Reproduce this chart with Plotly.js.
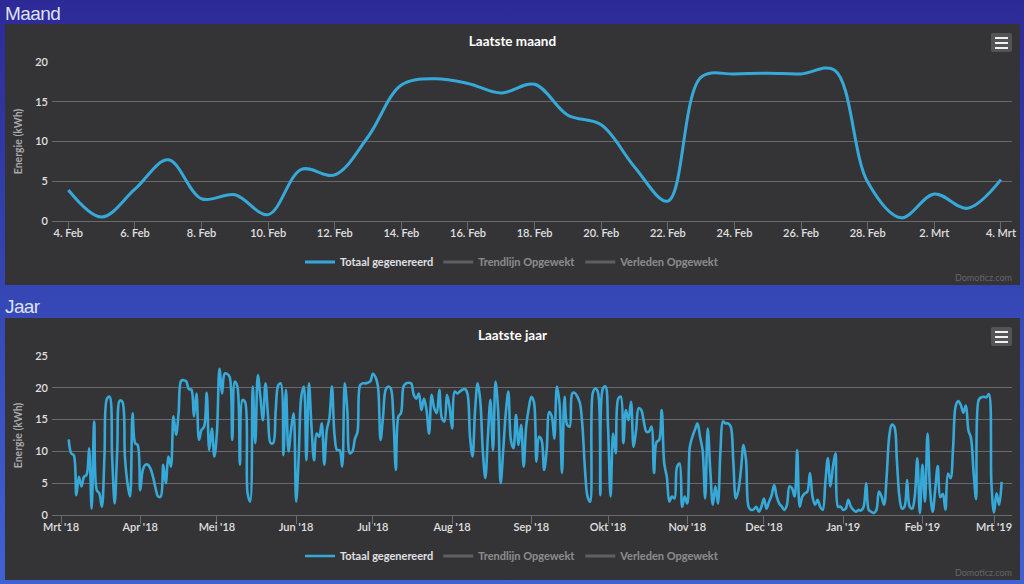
<!DOCTYPE html>
<html lang="nl">
<head>
    <meta charset="UTF-8">
    <title>Opbrengst zonnepanelen</title>
    <script src="https://cdn.plot.ly/plotly-3.0.1.min.js"></script>
    <style>
        body {
            margin: 0;
            width: 1024px;
            height: 584px;
            overflow: hidden;
            position: relative;
            background: linear-gradient(180deg, #2d2a97 0%, #3444b2 45%, #3b55c3 75%, #4062d0 100%);
            font-family: 'Liberation Sans', Arial, sans-serif;
        }
        .kop {
            position: absolute;
            left: 5px;
            color: #dfe1f6;
            font-size: 19px;
            line-height: 18px;
            letter-spacing: -0.6px;
        }
        .paneel {
            position: absolute;
            left: 5px;
            width: 1015px;
            background: #343436;
        }
        .menu {
            position: absolute;
            left: 986px;
            top: 9px;
            width: 21px;
            height: 19px;
            background: #545457;
            border-radius: 2px;
        }
        .menu span {
            position: absolute;
            left: 4px;
            width: 13px;
            height: 2px;
            background: #f0f0f0;
        }
        .credit {
            position: absolute;
            right: 8px;
            bottom: 2px;
            font-family: Lato, sans-serif;
            font-size: 9px;
            color: #646466;
        }
    </style>
</head>

<body>

<div class="kop" style="top:5px">Maand</div>
<div class="paneel" style="top:24px; height:261px">
    <div id="maand"></div>
    <div class="menu"><span style="top:4px"></span><span style="top:9px"></span><span style="top:14px"></span></div>
    <div class="credit">Domoticz.com</div>
</div>

<div class="kop" style="top:298px">Jaar</div>
<div class="paneel" style="top:318px; height:262px">
    <div id="jaar"></div>
    <div class="menu"><span style="top:4px"></span><span style="top:9px"></span><span style="top:14px"></span></div>
    <div class="credit">Domoticz.com</div>
</div>

<script>

    // laatste maand: 4 feb 2019 t/m 4 mrt 2019 (kWh per dag)
    const maandStart = '2019-02-04'
    const maandWaarden = [3.9, 0.5, 4.0, 7.7, 2.8, 3.3, 0.8, 6.5, 5.8, 10.6, 17.1, 17.9, 17.3, 16.1, 17.2,
        13.3, 12.1, 6.8, 2.5, 18.1, 18.5, 18.6, 18.5, 19.0, 4.9, 0.4, 3.4, 1.6, 5.2]
    const maandTickLabels = ['4. Feb', '6. Feb', '8. Feb', '10. Feb', '12. Feb', '14. Feb', '16. Feb', '18. Feb',
        '20. Feb', '22. Feb', '24. Feb', '26. Feb', '28. Feb', '2. Mrt', '4. Mrt']

    // laatste jaar: 4 mrt 2018 t/m 4 mrt 2019, per maand
    const jaarStart = '2018-03-04'
    const mrt18 = [11.9, 9.7, 9.4, 3.1, 6.0, 4.5, 6.0, 6.3, 10.5, 1.0, 14.7, 3.9, 3.4, 1.3, 9.2, 18.3, 18.6, 9.2, 1.8, 10.2,
        18.0, 17.8, 9.2, 5.0, 2.9, 16.0, 11.3, 11.0]
    const apr18 = [3.9, 7.1, 7.9, 7.9, 7.3, 6.0, 4.2, 2.9, 2.9, 7.9, 5.0, 9.2, 7.6, 15.5, 12.6, 16.0, 21.1, 21.2, 21.0, 19.8,
        19.7, 15.5, 19.1, 11.8, 13.4, 13.9, 19.2, 10.2, 13.6, 9.2]
    const mei18 = [13.0, 23.0, 19.1, 22.2, 22.2, 21.7, 11.8, 21.0, 20.2, 7.9, 18.1, 17.8, 3.4, 2.1, 20.2, 11.3, 22.0, 18.6,
        14.9, 20.7, 15.5, 11.3, 11.3, 16.5, 20.4, 20.7, 9.4, 19.7, 10.0, 13.4, 16.0]
    const jun18 = [2.1, 9.2, 18.6, 20.2, 8.6, 20.7, 13.9, 8.6, 12.8, 12.3, 14.4, 7.9, 13.4, 15.2, 20.2, 12.6, 10.2, 10.2,
        7.6, 20.7, 16.5, 9.7, 10.0, 12.0, 13.1, 20.4, 20.7, 20.7, 20.8, 21.0]
    const jul18 = [22.2, 21.7, 20.2, 11.8, 15.5, 19.7, 20.2, 19.9, 15.5, 7.1, 15.5, 16.0, 20.2, 20.7, 20.8, 20.7, 18.9, 18.3,
        19.1, 16.5, 18.3, 16.5, 12.8, 18.9, 16.8, 16.0, 19.7, 15.2, 14.7, 18.9, 17.0]
    const aug18 = [13.6, 19.4, 19.1, 19.4, 19.7, 19.8, 19.1, 12.3, 9.2, 16.5, 20.7, 18.1, 10.2, 5.8, 12.3, 18.1, 10.2, 21.0,
        16.5, 5.0, 10.2, 16.0, 19.4, 11.8, 10.5, 15.7, 11.0, 14.2, 7.6, 14.0, 16.8]
    const sep18 = [18.6, 17.8, 8.4, 12.3, 11.8, 7.1, 10.2, 16.2, 15.5, 12.0, 20.2, 17.6, 6.6, 18.6, 14.2, 13.9, 19.1, 19.2,
        18.6, 17.6, 13.9, 7.1, 2.9, 2.1, 19.1, 19.9, 19.4, 3.1, 19.9, 20.2]
    const okt18 = [13.9, 2.9, 12.8, 9.7, 18.3, 18.6, 11.3, 16.5, 14.9, 17.8, 10.7, 13.4, 16.8, 16.5, 14.7, 13.1, 13.1, 13.9,
        6.6, 11.5, 11.8, 16.5, 8.1, 6.0, 2.1, 2.9, 2.6, 7.6, 8.1, 1.3, 2.9]
    const nov18 = [1.8, 10.7, 12.3, 13.4, 14.4, 12.3, 10.2, 2.6, 13.6, 7.1, 1.6, 4.5, 1.8, 10.2, 14.7, 14.4, 14.4, 13.9,
        8.6, 2.6, 3.9, 7.1, 11.0, 8.6, 1.3, 0.8, 0.9, 1.3, 0.5, 1.3]
    const dec18 = [2.6, 1.0, 2.1, 3.1, 4.7, 2.9, 1.8, 1.3, 0.8, 1.6, 4.5, 4.2, 2.9, 10.2, 1.3, 2.9, 3.4, 3.7, 6.6, 2.9,
        1.6, 2.4, 1.3, 0.8, 5.0, 8.9, 4.5, 7.6, 9.7, 1.3, 1.3]
    const jan19 = [0.8, 1.0, 2.4, 1.3, 0.8, 0.5, 0.8, 0.7, 1.3, 5.0, 0.8, 0.5, 0.3, 0.8, 3.7, 2.9, 1.6, 6.0, 12.3, 14.2,
        13.9, 8.6, 2.9, 1.0, 1.3, 5.5, 1.3, 1.0, 2.9, 8.9, 0.3]
    const feb19 = [7.9, 2.1, 12.8, 3.9, 0.5, 4.0, 7.7, 2.8, 3.3, 0.8, 6.5, 5.8, 10.6, 17.1, 17.9, 17.3, 16.1, 17.2, 13.3,
        12.1, 6.8, 2.5, 18.1, 18.5, 18.6, 18.5, 19.0, 4.9]
    const mrt19 = [0.4, 3.4, 1.6, 5.2]
    const jaarTickDatums = ['2018-03-01', '2018-04-01', '2018-05-01', '2018-06-01', '2018-07-01', '2018-08-01',
        '2018-09-01', '2018-10-01', '2018-11-01', '2018-12-01', '2019-01-01', '2019-02-01', '2019-03-01']
    const jaarTickLabels = ["Mrt '18", "Apr '18", "Mei '18", "Jun '18", "Jul '18", "Aug '18", "Sep '18", "Okt '18",
        "Nov '18", "Dec '18", "Jan '19", "Feb '19", "Mrt '19"]

    const blauw = '#36a9d9'
    const raster = '#6a6a6d'
    const tekst = '#e0e0e3'

    function dagen(start, n) {
        const t0 = Date.parse(start + 'T00:00:00Z')
        return Array.from({length: n}, (_, i) => new Date(t0 + i * 864e5).toISOString().slice(0, 10))
    }

    // verborgen series staan alleen in de legenda (geen waarden)
    function series(x, y, breedte) {
        const leeg = x.map(() => null)
        return [
            {x: x, y: y, type: 'scatter', mode: 'lines', name: 'Totaal gegenereerd',
                line: {color: blauw, width: breedte, shape: 'spline', smoothing: 1}},
            {x: x, y: leeg, type: 'scatter', mode: 'lines', name: 'Trendlijn Opgewekt', visible: 'legendonly',
                line: {color: '#8a8a8c', width: 3}},
            {x: x, y: leeg, type: 'scatter', mode: 'lines', name: 'Verleden Opgewekt', visible: 'legendonly',
                line: {color: '#8a8a8c', width: 3}}
        ]
    }

    function opmaak(titel, hoogte, onder, bereik, tickvals, ticktext, ymax) {
        return {
            width: 1015,
            height: hoogte,
            margin: {l: 47, r: 8, t: 38, b: onder},
            paper_bgcolor: '#343436',
            plot_bgcolor: '#343436',
            font: {family: 'Lato, sans-serif', color: tekst, size: 11},
            title: {text: '<b>' + titel + '</b>', x: 0.5, xanchor: 'center', y: 1 - 17 / hoogte, yanchor: 'middle',
                font: {size: 13.5, color: '#ffffff', family: 'Lato, sans-serif'}},
            showlegend: true,
            legend: {orientation: 'h', xref: 'container', x: 0.5, xanchor: 'center', yref: 'container',
                y: 1 - 238 / hoogte, yanchor: 'middle', bgcolor: 'rgba(0,0,0,0)',
                font: {size: 11, color: tekst, family: 'Lato, sans-serif', weight: 'bold'}, itemwidth: 30},
            xaxis: {
                type: 'date', range: bereik, tickvals: tickvals, ticktext: ticktext, tickangle: 0,
                showgrid: false, showline: true, linecolor: raster, linewidth: 1,
                ticks: 'outside', ticklen: 8, tickcolor: raster, tickwidth: 1, ticklabelstandoff: -6,
                tickfont: {size: 11, color: tekst, weight: 600}, zeroline: false
            },
            yaxis: {
                range: [0, ymax], dtick: 5, showgrid: true, gridcolor: raster, gridwidth: 1,
                zeroline: false, ticks: '', ticklabelstandoff: 3,
                tickfont: {size: 11, color: tekst, weight: 600},
                title: {text: 'Energie (kWh)', standoff: 10, font: {size: 10.5, color: '#a8a8ab', weight: 'bold'}}
            },
            hovermode: false
        }
    }

    const maandDatums = dagen(maandStart, maandWaarden.length)
    const maandTicks = maandDatums.filter((d, i) => i % 2 === 0)

    const jaarWaarden = [].concat(mrt18, apr18, mei18, jun18, jul18, aug18, sep18, okt18, nov18, dec18, jan19, feb19, mrt19)
    const jaarDatums = dagen(jaarStart, jaarWaarden.length)

    Plotly.newPlot('maand', series(maandDatums, maandWaarden, 3),
        opmaak('Laatste maand', 261, 64, ['2019-02-03 12:15', '2019-03-04 08:00'], maandTicks, maandTickLabels, 20),
        {displayModeBar: false, staticPlot: true})

    Plotly.newPlot('jaar', series(jaarDatums, jaarWaarden, 2.6),
        opmaak('Laatste jaar', 262, 65, ['2018-02-25 11:30', '2019-03-08 01:00'], jaarTickDatums, jaarTickLabels, 25),
        {displayModeBar: false, staticPlot: true})

</script>
</body>
</html>
